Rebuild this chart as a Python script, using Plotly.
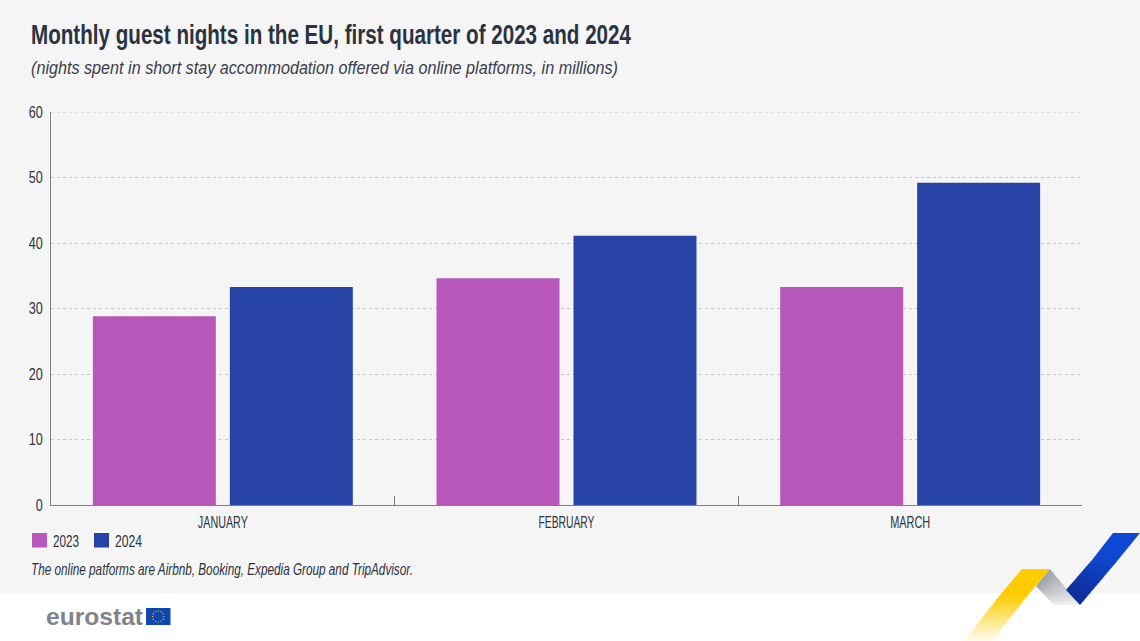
import json
import math
import plotly.graph_objects as go

months = ["JANUARY", "FEBRUARY", "MARCH"]
series_names = ["2023", "2024"]
values_2023 = [28.8, 34.6, 33.3]
values_2024 = [33.3, 41.1, 49.2]
y_ticks = [0, 10, 20, 30, 40, 50, 60]
title_text = "Monthly guest nights in the EU, first quarter of 2023 and 2024"
subtitle_text = "(nights spent in short stay accommodation offered via online platforms, in millions)"
note_text = "The online patforms are Airbnb, Booking, Expedia Group and TripAdvisor."
logo_text = "eurostat"

W, H = 1140, 641
L, R, T, B = 51, 1082, 112, 505
PURPLE, BLUE = "#b757bb", "#2743a6"
INK = "#2b3240"
GRID = "#c4c4c4"
FONT = "Liberation Sans, Arial, sans-serif"

def px(x): return (x - L) / (R - L)
def py(y): return (B - y) / (B - T)

def poly(points, fill):
    path = "M" + "L".join(f"{px(x):.5f},{py(y):.5f}" for x, y in points) + "Z"
    return dict(type="path", xref="paper", yref="paper", path=path,
                fillcolor=fill, line=dict(width=0), layer="below")

def rect(x0, y0, x1, y1, fill, layer="below"):
    return dict(type="rect", xref="paper", yref="paper", x0=px(x0), x1=px(x1),
                y0=py(y1), y1=py(y0), fillcolor=fill, line=dict(width=0), layer=layer)

def mix(a, b, t):
    return "rgb(" + ",".join(str(round(a[i] + (b[i] - a[i]) * t)) for i in range(3)) + ")"

def band(p0, p1, q0, q1, c0, c1, n):
    out = []
    for i in range(n):
        a, b = i / n, min((i + 1.3) / n, 1)
        left = lambda s: (p0[0] + (q0[0] - p0[0]) * s, p0[1] + (q0[1] - p0[1]) * s)
        right = lambda s: (p1[0] + (q1[0] - p1[0]) * s, p1[1] + (q1[1] - p1[1]) * s)
        out.append(poly([left(a), right(a), right(b), left(b)], mix(c0, c1, (i + .5) / n)))
    return out

shapes = [rect(0, 593, W, H, "#ffffff")]

# top gridline, which plotly leaves out at the end of the axis
shapes.append(dict(type="line", xref="paper", yref="y", x0=0, x1=1, y0=y_ticks[-1], y1=y_ticks[-1],
                   line=dict(color=GRID, width=1, dash="3px,3px"), layer="below"))

# decorative ribbon
shapes += band((1022, 569), (1050, 569), (1000, 595), (1028, 595), (255, 204, 0), (255, 204, 0), 1)
shapes += band((1000, 595), (1028, 595), (964, 641), (992, 641), (255, 204, 0), (255, 252, 240), 20)
shapes += band((1036, 586), (1050, 569), (1054, 605), (1080, 605), (160, 162, 168), (240, 240, 242), 16)
shapes += band((1066, 590), (1080, 605), (1092, 560), (1118, 560), (15, 45, 150), (14, 70, 205), 12)
shapes += band((1092, 560), (1118, 560), (1113, 533), (1140, 533), (14, 70, 205), (15, 75, 215), 1)

# eurostat flag
shapes.append(rect(146, 608, 170.5, 625, "#0f47af"))
for k in range(12):
    a = 2 * math.pi * k / 12
    cx, cy = 158.2 + 5.6 * math.cos(a), 616.5 + 5.6 * math.sin(a)
    shapes.append(dict(type="circle", xref="paper", yref="paper",
                       x0=px(cx - .7), x1=px(cx + .7), y0=py(cy + .7), y1=py(cy - .7),
                       fillcolor="#f2c200", line=dict(width=0), layer="above"))

# legend swatches
legend_pos = [(32, 52), (94, 114)]
for (sx, _), c in zip(legend_pos, [PURPLE, BLUE]):
    shapes.append(rect(sx, 533, sx + 15, 547.5, c))

def note(text, x, y, size, color=INK, weight=400, style="normal"):
    return dict(text=text, xref="paper", yref="paper", x=px(x), y=py(y), showarrow=False,
                xanchor="left", yanchor="middle", borderpad=0,
                font=dict(size=size, color=color, family=FONT, weight=weight, style=style))

annotations = [
    note(title_text, 30, 35, 27, weight=700),
    note(subtitle_text, 30, 68, 17.5, color="#3a404c", style="italic"),
    note(note_text, 30, 569, 16.5, style="italic"),
    note(series_names[0], legend_pos[0][1], 540.5, 16.5),
    note(series_names[1], legend_pos[1][1], 540.5, 16.5),
    note(logo_text, 45, 617, 23.5, color="#80838b", weight=700),
]

fig = go.Figure()
fig.add_bar(name=series_names[0], x=months, y=values_2023, marker=dict(color=PURPLE, line=dict(width=0)))
fig.add_bar(name=series_names[1], x=months, y=values_2024, marker=dict(color=BLUE, line=dict(width=0)))

fig.update_layout(
    width=W, height=H, autosize=False,
    paper_bgcolor="#f5f5f5", plot_bgcolor="rgba(0,0,0,0)",
    margin=dict(l=L, r=W - R, t=T, b=H - B, pad=0),
    barmode="group", bargap=0.203, bargroupgap=0.102,
    showlegend=False, shapes=shapes, annotations=annotations,
    xaxis=dict(
        type="category", tickson="boundaries", ticks="inside", ticklen=9, tickwidth=1,
        tickcolor="#777777", showline=True, linecolor="#808080", linewidth=1, showgrid=False,
        tickfont=dict(size=16, color=INK, family=FONT), zeroline=False, ticklabelstandoff=3,
    ),
    yaxis=dict(
        range=[0, 60], tickmode="array", tickvals=y_ticks, ticks="", showline=True,
        linecolor="#808080", linewidth=1, gridcolor=GRID, griddash="3px,3px", gridwidth=1,
        tickfont=dict(size=16.5, color=INK, family=FONT), zeroline=False, ticklabelstandoff=4,
    ),
)

# the reference face is condensed: fit each text to the width it has in the picture
widths = {title_text: 600, subtitle_text: 587, note_text: 382, logo_text: 97,
          "2023": 26, "2024": 27, "JANUARY": 50, "FEBRUARY": 56, "MARCH": 40,
          "0": 7, "10": 14, "20": 14, "30": 14, "40": 14, "50": 14, "60": 14}
script = """
var widths = %s;
document.body.style.margin = '0';
document.querySelectorAll('.main-svg text').forEach(function (t) {
  var w = widths[t.textContent];
  if (!w) return;
  var natural = t.getComputedTextLength();
  if (t.closest('.annotation')) {
    t.setAttribute('x', parseFloat(t.getAttribute('x') || 0) - (natural - w) / 2);
  }
  t.setAttribute('textLength', w);
  t.setAttribute('lengthAdjust', 'spacingAndGlyphs');
});
""" % json.dumps(widths)

fig.write_html("out.html", config=dict(displayModeBar=False), post_script=script)
